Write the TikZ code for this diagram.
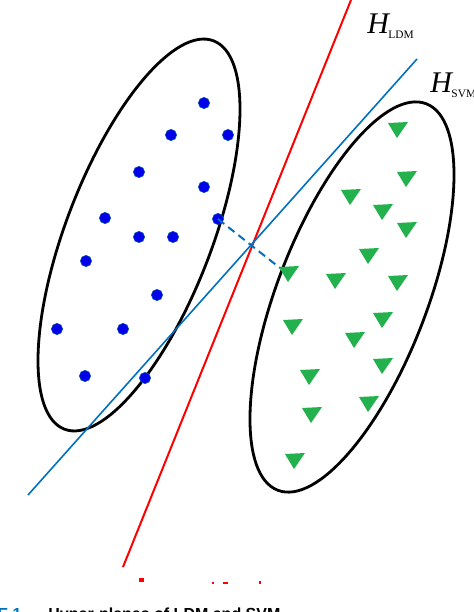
\documentclass[tikz,border=0pt]{standalone}
\usepackage{fontspec}
\setmainfont{Liberation Serif}
\newfontfamily\capfont{Liberation Sans}
\usepackage{xcolor}
\usetikzlibrary{calc}

\definecolor{svmblue}{RGB}{0,112,192}
\definecolor{dotblue}{RGB}{0,0,235}
\definecolor{trigreen}{RGB}{34,177,76}
\definecolor{figblue}{RGB}{0,114,188}

\tikzset{
  classline/.style={line width=1.4pt,black},
  dot/.style={circle,inner sep=0pt,minimum size=5.6pt,fill=dotblue,draw=teal!60!dotblue,line width=0.3pt},
  hlabel/.style={anchor=base west,inner sep=0pt}
}

\newcommand{\hsub}[1]{{\fontsize{15}{15}\selectfont\itshape H}\kern-0.3pt\raisebox{-2.5pt}{\fontsize{5.7}{5.7}\selectfont #1}}

\begin{document}
\begin{tikzpicture}[x=0.5pt,y=-0.5pt]
  \useasboundingbox (0,0) rectangle (474,612);

  % Class regions
  \draw[classline,rotate around={69:(139,235)}] (139,235) ellipse [x radius=208,y radius=73];
  \draw[classline,rotate around={69:(352,297)}] (352,297) ellipse [x radius=207,y radius=75];

  % Hyper-planes
  \coordinate (LDMtop) at (351,0);
  \coordinate (LDMbot) at (123,567);
  \coordinate (SVMtop) at (417,59);
  \coordinate (SVMbot) at (28,495);
  \draw[red,line width=1pt] (LDMtop) -- (LDMbot);
  \draw[svmblue,line width=0.8pt] (SVMtop) -- (SVMbot);

  % Class 1 samples
  \foreach \x/\y [count=\i] in {204/103,171/135,228/135,139/172,204/187,
      105/218,218/219,139/237,173/237,86/261,157/295,57/329,
      123/329,85/376,145/378}
    \node[dot] (b\i) at (\x,\y) {};

  % Class 2 samples
  \foreach \x/\y [count=\i] in {398/130,407/179,351/197,383/212,407/230,
      369/256,289/274,336/281,398/283,383/320,293/327,355/340,
      383/366,310/377,369/404,312/415,295/461}
    \fill[trigreen] (\x-10,\y-7) -- (\x+10,\y-8) -- (\x-1,\y+8) -- cycle;
  \coordinate (g7l) at (280,268);

  % Margin between closest samples
  \draw[svmblue,line width=1pt,dash pattern=on 4pt off 2.5pt] (b7.center) -- (g7l);

  % Labels
  \node[hlabel] (hldm) at (367,33) {\hsub{LDM}};
  \node[hlabel] (hsvm) at (430,92) {\hsub{SVM}};

  % Cut-off marks at the bottom
  \fill[red] (139,578) rectangle (144,582);
  \fill[red] (212,582) rectangle (214,584);
  \fill[red] (223,582) rectangle (228,584);
  \fill[red] (259,581) rectangle (261,584);

  % Caption (cut off by the page edge)
  \node[anchor=base east,inner sep=0pt,font=\capfont\bfseries\fontsize{8}{8}\selectfont,text=figblue] (fignum) at (22,619) {FIGURE 1};
  \node[anchor=base west,inner sep=0pt,font=\capfont\bfseries\fontsize{8}{8}\selectfont] (figcap) at (48,619) {Hyper-planes of LDM and SVM};
\end{tikzpicture}
\end{document}
